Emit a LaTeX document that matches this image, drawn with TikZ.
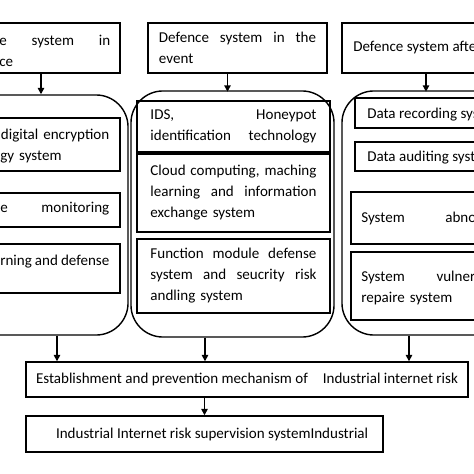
\documentclass[tikz,border=0pt]{standalone}
\usepackage{fontspec}
\setmainfont{Carlito}
\usetikzlibrary{arrows.meta, calc}

\newcommand{\boxfont}{\fontsize{10.7}{14.9}\selectfont}

\begin{document}
\begin{tikzpicture}[
  x=0.025cm, y=-0.025cm,
  every node/.style={font=\boxfont},
  box/.style={rectangle, draw, line width=1pt},
  grp/.style={rectangle, draw, line width=1pt, rounded corners=0.8cm},
  txt/.style={inner sep=0pt, align=left, anchor=west},
  inbox/.style={box, align=left, inner xsep=0.3375cm, text width=4.15cm, minimum width=4.825cm},
  arr/.style={-{Triangle[length=4.5pt, width=4.5pt]}, line width=1pt}
]
  \useasboundingbox (0,0) rectangle (474,474);
  \clip (0,0) rectangle (474,474);

  % top row
  \node[box, minimum width=3.95cm, minimum height=1.25cm] (ltop) at (41,48) {};
  \node[txt, text width=2.775cm] (ltopt) at (-1,51) {e\hfill system\hfill in\\ce};
  \node[box, align=left, text width=3.925cm, inner xsep=0.275cm, minimum height=1.25cm] (mtop) at (237.5,48)
    {Defence\hfill system\hfill in\hfill the\\event};
  \node[box, minimum width=4.45cm, minimum height=1.25cm] (rtop) at (431,48) {};
  \node[txt] (rtopt) at (353,48) {Defence system afte};

  % groups
  \node[grp, minimum width=5.7cm, minimum height=6cm] (lgrp) at (14,215) {};
  \node[grp, minimum width=5.075cm, minimum height=6.15cm] (mgrp) at (232.5,214) {};
  \node[grp, minimum width=5.45cm, minimum height=6.1cm] (rgrp) at (451,213) {};

  % left column
  \node[box, minimum width=4.75cm, minimum height=1.325cm] (l1) at (25,144.5) {};
  \node[txt, text width=2.725cm] (l1t) at (0,146) {\hfill digital encryption\\gy system};
  \node[box, minimum width=4.75cm, minimum height=0.85cm] (l2) at (25,210) {};
  \node[txt, text width=2.725cm] (l2t) at (0,209) {e\hfill monitoring};
  \node[box, minimum width=4.75cm, minimum height=1.225cm] (l3) at (25,268.5) {};
  \node[txt, text width=2.725cm] (l3t) at (0,262) {rning\hfill and\hfill defense};

  % middle column
  \node[inbox, minimum height=1.275cm] (m1) at (233.5,126.5)
    {IDS,\hfill Honeypot\\identification\hfill technology};
  \node[inbox, minimum height=1.95cm] (m2) at (233.5,193)
    {Cloud\hfill computing,\hfill maching\\learning\hfill and\hfill information\\exchange system};
  \node[inbox, minimum height=1.85cm] (m3) at (233.5,276)
    {Function\hfill module\hfill defense\\system\hfill and\hfill seucrity\hfill risk\\andling system};

  % right column
  \node[box, minimum width=4.125cm, minimum height=0.75cm] (r1) at (437.5,113) {};
  \node[txt] (r1t) at (367,115) {Data recording sys};
  \node[box, minimum width=4.125cm, minimum height=0.725cm] (r2) at (437.5,156.5) {};
  \node[txt] (r2t) at (367,158) {Data auditing syste};
  \node[box, minimum width=4.225cm, minimum height=1.3cm] (r3) at (435.5,218) {};
  \node[txt, text width=2.875cm] (r3t) at (361,218) {System\hfill abno};
  \node[box, minimum width=4.225cm, minimum height=1.7cm] (r4) at (435.5,286) {};
  \node[txt, text width=2.85cm] (r4t) at (361,288) {System\hfill vulner\\repaire system};

  % bottom row
  \node[box, minimum width=11.05cm, minimum height=0.875cm] (est) at (247,379.5)
    {Establishment and prevention mechanism of\quad Industrial internet risk};
  \node[box, minimum width=8.925cm, minimum height=0.9cm] (sup) at (204.5,434)
    {\hspace*{0.38cm}Industrial Internet risk supervision systemIndustrial};

  % arrows
  \draw[arr] (ltop.south) -- (ltop.south |- lgrp.north);
  \draw[arr] ($(mtop.south)+(-10,0)$) -- ++(0,18);
  \draw[arr] ($(rtop.south)+(-5,0)$) -- ++(0,18);

  \coordinate (lfoot) at ($(lgrp.south)+(43,0)$);
  \coordinate (mfoot) at ($(mgrp.south)+(-27.5,0)$);
  \coordinate (rfoot) at ($(rgrp.south)+(-42,0)$);
  \draw[arr] (lfoot) -- (lfoot |- est.north);
  \draw[arr] (mfoot) -- (mfoot |- est.north);
  \draw[arr] (rfoot) -- (rfoot |- est.north);
  \draw[arr] (sup.north |- est.south) -- (sup.north);
\end{tikzpicture}
\end{document}
